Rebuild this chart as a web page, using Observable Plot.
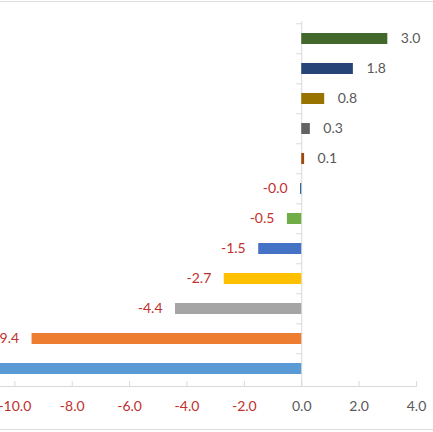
<!DOCTYPE html>
<html lang="en">
<head>
    <meta charset="UTF-8">
    <title>Bar chart</title>
    <style>
        html, body {
            margin: 0;
            padding: 0;
            background: white;
            overflow: hidden;
        }
        #chart {
            width: 433px;
            margin-top: 1px;
            border-top: 1px solid #dcdcdc;
            border-bottom: 1px solid #dcdcdc;
            overflow: hidden;
        }
        #chart svg {
            display: block;
            overflow: hidden;
        }
    </style>
</head>
<body>
    <div id="chart"></div>

<script src="https://cdn.jsdelivr.net/npm/d3@7"></script>
<script src="https://cdn.jsdelivr.net/npm/@observablehq/plot@0.6"></script>
<script>
// data, top to bottom
const categories = ["c1", "c2", "c3", "c4", "c5", "c6", "c7", "c8", "c9", "c10", "c11", "c12"];
const values = [3.0, 1.8, 0.8, 0.3, 0.1, -0.04, -0.5, -1.5, -2.7, -4.4, -9.4, -12.9];
const barColors = ["#43682b", "#264478", "#997300", "#636363", "#9e480e", "#255e91",
                   "#70ad47", "#4472c4", "#ffc000", "#a5a5a5", "#ed7d31", "#5b9bd5"];
const xTicks = [-10, -8, -6, -4, -2, 0, 2, 4];

const rows = categories.map((c, i) => ({cat: c, value: values[i], color: barColors[i]}));

const red = "#c0302e";
const gray = "#595959";
const lineColor = "#d9d9d9";
const font = "Lato, 'Open Sans', sans-serif";

const W = 433, H = 427;
const mTop = 19, mBottom = 43, mLeft = 0, mRight = 17;
const xDomain = [-10.5, 4];
const zeroPx = mLeft + (W - mLeft - mRight) * (0 - xDomain[0]) / (xDomain[1] - xDomain[0]);
const step = (H - mTop - mBottom) / categories.length;

const plot = Plot.plot({
  width: W,
  height: H,
  marginTop: mTop,
  marginBottom: mBottom,
  marginLeft: mLeft,
  marginRight: mRight,
  style: {fontFamily: font, fontSize: "14px", background: "white"},
  x: {domain: xDomain, label: null},
  y: {domain: categories, paddingInner: 0.65, paddingOuter: 0.325, label: null},
  color: {type: "identity"},
  marks: [
    // x axis line and inward ticks
    Plot.frame({anchor: "bottom", stroke: lineColor}),
    Plot.axisX({ticks: xTicks, tickSize: 5, dy: -5, text: null, stroke: lineColor, label: null}),
    Plot.axisX({ticks: xTicks.filter(d => d < 0), tickSize: 0, tickPadding: 15,
                tickFormat: d => d.toFixed(1), fill: red, fontSize: 14, label: null}),
    Plot.axisX({ticks: xTicks.filter(d => d >= 0), tickSize: 0, tickPadding: 15,
                tickFormat: d => d.toFixed(1), fill: gray, fontSize: 14, label: null}),
    // category axis at zero, ticks between the bars
    Plot.ruleX([0], {stroke: lineColor}),
    Plot.axisY({tickSize: 5, text: null, stroke: lineColor, dx: zeroPx, dy: -step / 2, label: null}),
    Plot.barX(rows, {x: "value", y: "cat", fill: "color"}),
    Plot.text(rows.filter(d => d.value >= 0), {
      x: "value", y: "cat", text: d => d.value.toFixed(1),
      textAnchor: "start", dx: 13, fill: gray, fontSize: 14
    }),
    Plot.text(rows.filter(d => d.value < 0), {
      x: "value", y: "cat", text: d => d.value.toFixed(1),
      textAnchor: "end", dx: -13, fill: red, fontSize: 14
    })
  ]
});

document.querySelector("#chart").append(plot);
</script>
</body>
</html>
